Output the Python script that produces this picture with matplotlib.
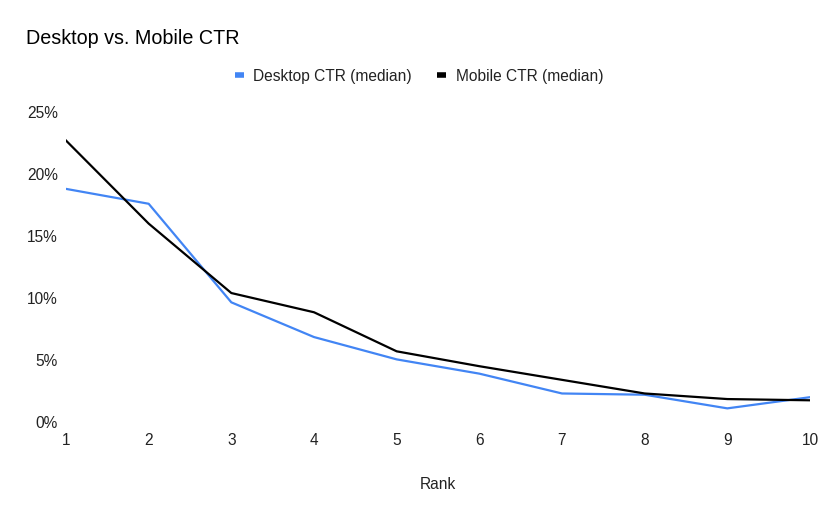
import matplotlib.pyplot as plt
from matplotlib.ticker import FuncFormatter

# Data
rank = [1, 2, 3, 4, 5, 6, 7, 8, 9, 10]
desktop_ctr = [18.8, 17.6, 9.65, 6.85, 5.05, 3.9, 2.3, 2.2, 1.1, 2.0]
mobile_ctr = [22.7, 16.0, 10.4, 8.85, 5.7, 4.5, 3.4, 2.3, 1.85, 1.75]

plt.rcParams['font.family'] = ['Liberation Sans', 'DejaVu Sans']
fs = 11.2

fig = plt.figure(figsize=(8.37, 5.18), dpi=100)
ax = fig.add_axes([66/837, 1 - 422/518, (810 - 66)/837, (422 - 112)/518])

ax.plot(rank, desktop_ctr, color='#4285F4', lw=1.6, label='Desktop CTR (median)')
ax.plot(rank, mobile_ctr, color='#000000', lw=1.6, label='Mobile CTR (median)')

ax.set_xlim(1, 10)
ax.set_ylim(0, 25)
ax.set_xticks(rank)
ax.set_yticks(range(0, 26, 5))
ax.yaxis.set_major_formatter(FuncFormatter(lambda v, p: f'{int(v)}%'))
ax.tick_params(length=0, colors='#222222', labelsize=fs)
ax.tick_params(axis='y', pad=6)
ax.tick_params(axis='x', pad=8)
for s in ax.spines.values():
    s.set_visible(False)

ax.set_xlabel('Rank', color='#222222', fontsize=fs, labelpad=21)

fig.text(26/837, 1 - 38/518, 'Desktop vs. Mobile CTR', fontsize=14.2, color='#000000',
         va='center', ha='left')

leg = fig.legend(loc='center', bbox_to_anchor=(419/837, 1 - 76/518), ncol=2, frameon=False,
                 handlelength=0.6, handletextpad=0.6, columnspacing=1.6, fontsize=fs)
for h in leg.get_lines():
    h.set_linewidth(4)
    h.set_solid_capstyle('butt')
for t in leg.get_texts():
    t.set_color('#222222')

fig.savefig('out.png', dpi=100)
